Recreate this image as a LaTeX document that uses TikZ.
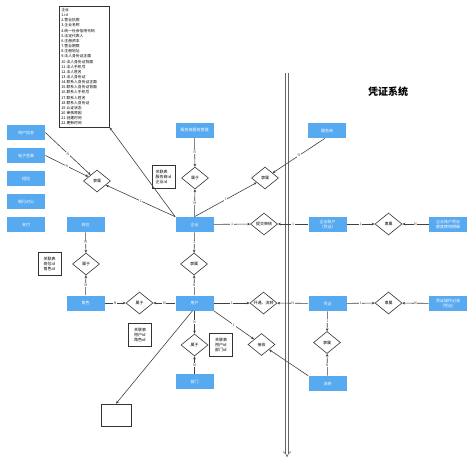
\documentclass[tikz,border=0pt]{standalone}
\usepackage{fontspec}
\setmainfont{Noto Sans CJK SC}
\usetikzlibrary{arrows.meta,shapes.geometric}
\definecolor{entblue}{RGB}{88,170,240}

\begin{document}
\begin{tikzpicture}[x=1pt,y=-1pt,line width=0.6pt,
        font=\fontsize{4}{5}\selectfont,
        entity/.style={fill=entblue,text=white,minimum width=38pt,minimum height=15pt,inner sep=0pt,align=center},
        rel/.style={diamond,draw=black!80,fill=white,minimum width=27pt,minimum height=22pt,inner sep=0pt,aspect=1.25},
        memo/.style={draw=black!80,fill=white,align=left,inner sep=1.5pt,minimum width=23pt,minimum height=23pt},
        link/.style={draw=black!75,-{Stealth[length=3pt,width=2.6pt]}},
        card/.style={fill=white,inner sep=0.6pt,text=black!70,font=\fontsize{3.6}{4}\selectfont}]
                \useasboundingbox (0,0) rectangle (474,466);

                \foreach[count=\i] \t in {用户信息,电子签章,短信,银行对公,支付} {
                    \node[entity] (ext\i) at (26,{109.5+23*\i}) {\t};
                }

                \node[memo,anchor=north west,text width=46pt,inner sep=2pt,font=\fontsize{3.8}{5.15}\selectfont] (qiyeinfo) at (59,6)
                    {企业\\1.id\\2.营业执照\\3.企业名称\\4.统一社会信用代码\\5.法定代表人\\6.注册资本\\7.营业期限\\8.注册地址\\9.法人身份证正面\\10.法人身份证背面\\11.法人手机号\\12.法人姓名\\13.法人身份证\\14.联系人身份证正面\\15.联系人身份证背面\\16.联系人手机号\\17.联系人姓名\\18.联系人身份证\\19.认证状态\\20.审核原因\\21.创建时间\\22.更新时间};

                \node[rel] (leftrel) at (97,181) {隶属};
                \node[entity] (svcmgr) at (194.5,130) {服务商服务管理};
                \node[rel] (svcrel) at (195,178) {属于};
                \node[memo] (svcmemo) at (163.5,176.5) {关联表\\服务商id\\企业id};
                \node[entity] (qiye) at (194.5,224.5) {企业};
                \node[rel] (sprel) at (265,178) {隶属};
                \node[rel] (submit) at (264,224) {提交审核};
                \node[entity] (provider) at (327,130.5) {服务商};
                \node[font=\fontsize{10}{12}\selectfont\bfseries] (title) at (388,92) {凭证系统};
                \node[entity] (acct) at (327.5,224) {企业账户\\（凭证）};
                \node[rel] (acctrel) at (388.5,224) {隶属};
                \node[entity] (quota) at (448,224) {企业账户凭证\\额度使用明细};

                \node[entity] (post) at (85.5,224.5) {岗位};
                \node[rel] (postrel) at (86,264) {属于};
                \node[memo] (postmemo) at (49.5,263.5) {关联表\\岗位id\\角色id};
                \node[entity] (role) at (85.5,303) {角色};
                \node[rel] (rolerel) at (139.5,303) {属于};
                \node[entity] (yonghu) at (194.5,303) {用户};
                \node[rel] (userrel) at (194,264) {隶属};
                \node[rel] (open) at (263.5,303) {开通、流转};
                \node[entity] (voucher) at (327.5,303.5) {凭证};
                \node[rel] (vrel) at (388.5,303) {隶属};
                \node[entity] (vlog) at (448,303.5) {凭证操作记录\\（凭证）};

                \node[memo] (rolememo) at (140,335) {关联表\\用户id\\角色id};
                \node[rel] (deptrel) at (194.5,345) {属于};
                \node[memo] (deptmemo) at (221,345) {关联表\\用户id\\部门id};
                \node[entity] (dept) at (194.5,381.5) {部门};
                \node[rel] (recv) at (261.5,344.5) {接收};
                \node[rel] (flowrel) at (327,342.5) {隶属};
                \node[entity] (flow) at (327.5,383.5) {流转};
                \node[draw=black!80,minimum width=30pt,minimum height=22pt] (blank) at (116,415) {};

                \coordinate (lanetop) at (287,73);
                \coordinate (lanebot) at (287,457);
                \draw[draw=black!60,double=white,double distance=2.4pt,-{Implies}] (lanetop) -- (lanebot);

                \draw[link] (ext1.east) -- node[card]{N} (leftrel);
                \draw[link] (ext2.east) -- node[card]{N} (leftrel);
                \draw[link] (qiye.north west) -- node[card]{1} (leftrel);
                \draw[link] (qiye.north west) -- (qiyeinfo.south east);
                \draw[link] (svcmgr) -- node[card]{N} (svcrel);
                \draw[link] (qiye) -- node[card]{M} (svcrel);
                \draw[link] (qiye.north) -- node[card]{1} (sprel);
                \draw[link] ([xshift=-2pt]provider.south) -- node[card]{N} (sprel);
                \draw[link] (qiye) -- node[card]{1} (submit);
                \draw[link] (acct) -- node[card]{1} (submit);
                \draw[link] (acct) -- node[card]{1} (acctrel);
                \draw[link] (quota) -- node[card]{N} (acctrel);

                \draw[link] (post) -- node[card]{N} (postrel);
                \draw[link] (role) -- node[card]{M} (postrel);
                \draw[link] (role) -- node[card]{N} (rolerel);
                \draw[link] (yonghu) -- node[card]{M} (rolerel);
                \draw[link] (qiye) -- node[card]{1} (userrel);
                \draw[link] (yonghu) -- node[card]{N} (userrel);
                \draw[link] (yonghu) -- node[card]{1} (open);
                \draw[link] (voucher) -- node[card]{N} (open);
                \draw[link] (voucher) -- node[card]{1} (vrel);
                \draw[link] (vlog) -- node[card]{N} (vrel);

                \draw[link] (yonghu) -- node[card]{N} (deptrel);
                \draw[link] (dept) -- node[card]{M} (deptrel);
                \draw[link] (yonghu.south east) -- node[card]{1} (recv);
                \draw[link] (flow.north west) -- (recv);
                \draw[link] (voucher) -- node[card]{1} (flowrel);
                \draw[link] (flow) -- node[card]{N} (flowrel);
                \draw[link] ([xshift=-2pt]yonghu.south) -- (blank.north);
\end{tikzpicture}
\end{document}
